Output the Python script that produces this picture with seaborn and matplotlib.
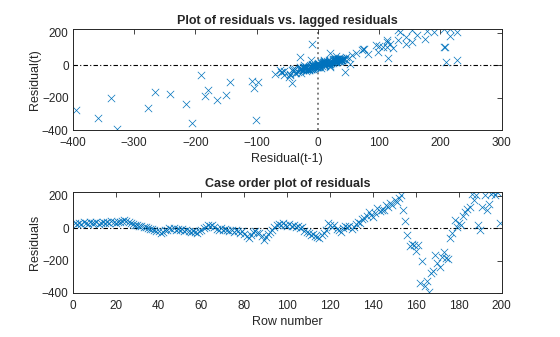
import numpy as np
import pandas as pd
import seaborn as sns
import matplotlib
matplotlib.use("Agg")
import matplotlib.pyplot as plt

# Residuals of the fitted model, in case (row) order
residuals = [
    30, 25, 35, 28, 38, 32, 27, 40, 34, 30,
    36, 29, 33, 38, 31, 40, 35, 42, 37, 33,
    41, 38, 46, 50, 44, 37, 30, 25, 18, 22,
    12, 15, 8, 10, 2, -5, -2, -12, -20, -15,
    -28, -22, -12, -8, 3, -5, 0, -8, -2, -12,
    -6, -15, -10, -18, -22, -15, -25, -30, -20, -8,
    0, 8, 18, 12, 20, 6, -2, -10, 2, -8,
    -5, -12, -20, -8, -22, -10, -15, -28, -20, -35,
    -45, -58, -40, -22, -18, -30, -28, -48, -70, -55,
    -38, -25, -10, 5, 20, 28, 18, 30, 22, 15,
    25, 12, 18, 8, 12, 2, 5, -15, -25, -32,
    -40, -38, -45, -55, -60, -42, -30, -12, 30, 18,
    10, 20, -5, -12, -22, 0, 15, 5, 12, -2,
    10, 25, 40, 30, 55, 62, 73, 98, 82, 72,
    95, 123, 106, 113, 112, 143, 131, 154, 144, 174,
    161, 189, 207, 114, 45, -42, -107, -98, -104, -143,
    -101, -338, -205, -359, -328, -395, -277, -266, -164, -215,
    -242, -180, -150, -185, -190, -62, -30, 52, 10, 30,
    20, 75, 100, 117, 131, 215, 178, 209, 20, -10,
    134, 205, 113, 153, 215, 227, 205, 227, 31,
]

top_title = "Plot of residuals vs. lagged residuals"
bottom_title = "Case order plot of residuals"
lag_xticks = [-400, -300, -200, -100, 0, 100, 200, 300]
row_xticks = [0, 20, 40, 60, 80, 100, 120, 140, 160, 180, 200]
res_yticks = [-400, -200, 0, 200]

res = np.asarray(residuals, dtype=float)
case_df = pd.DataFrame({"row": np.arange(1, len(res) + 1), "resid": res})
lag_df = pd.DataFrame({"prev": res[:-1], "curr": res[1:]})

sns.set_theme(style="white")
plt.rcParams["font.family"] = ["Liberation Sans", "DejaVu Sans"]

BLUE = "#0072BD"
INK = "#262626"

fig = plt.figure(figsize=(5.6, 3.37), dpi=100)
fig.patch.set_facecolor("white")
ax1 = fig.add_axes([0.130, 0.614, 0.766, 0.299])
ax2 = fig.add_axes([0.130, 0.131, 0.766, 0.298])


def style_axes(ax):
    for sp in ax.spines.values():
        sp.set_visible(True)
        sp.set_color(INK)
        sp.set_linewidth(0.7)
    ax.tick_params(direction="in", top=True, right=True, length=3.5,
                   width=0.6, color=INK, labelcolor=INK, labelsize=8.5)
    ax.tick_params(axis="x", pad=5)
    ax.tick_params(axis="y", pad=3)
    ax.grid(False)


# Lagged residuals
ax1.axhline(0, color="black", lw=0.8, ls=(0, (4, 2, 1, 2)), zorder=0.5)
ax1.axvline(0, color="#808080", lw=1.4, ls=(0, (1, 1.6)), zorder=0.5)
sns.scatterplot(data=lag_df, x="prev", y="curr", ax=ax1, marker="x",
                color=BLUE, s=28, linewidth=0.5, legend=False)
ax1.set_xlim(-400, 300)
ax1.set_ylim(-400, 222)
ax1.set_xticks(lag_xticks)
ax1.set_yticks(res_yticks)
ax1.set_xlabel("Residual(t-1)", fontsize=9, color=INK, labelpad=3)
ax1.set_ylabel("Residual(t)", fontsize=9, color=INK, labelpad=0.5)
ax1.set_title(top_title, fontsize=9, fontweight="bold", pad=4)
style_axes(ax1)

# Case order
ax2.axhline(0, color="black", lw=0.8, ls=(0, (4, 2, 1, 2)), zorder=0.5)
sns.scatterplot(data=case_df, x="row", y="resid", ax=ax2, marker="x",
                color=BLUE, s=28, linewidth=0.5, legend=False)
ax2.set_xlim(0, 200)
ax2.set_ylim(-400, 222)
ax2.set_xticks(row_xticks)
ax2.set_yticks(res_yticks)
ax2.set_xlabel("Row number", fontsize=9, color=INK, labelpad=3)
ax2.set_ylabel("Residuals", fontsize=9, color=INK, labelpad=0.5)
ax2.set_title(bottom_title, fontsize=9, fontweight="bold", pad=4)
style_axes(ax2)

fig.savefig("out.png", dpi=100, facecolor="white")
